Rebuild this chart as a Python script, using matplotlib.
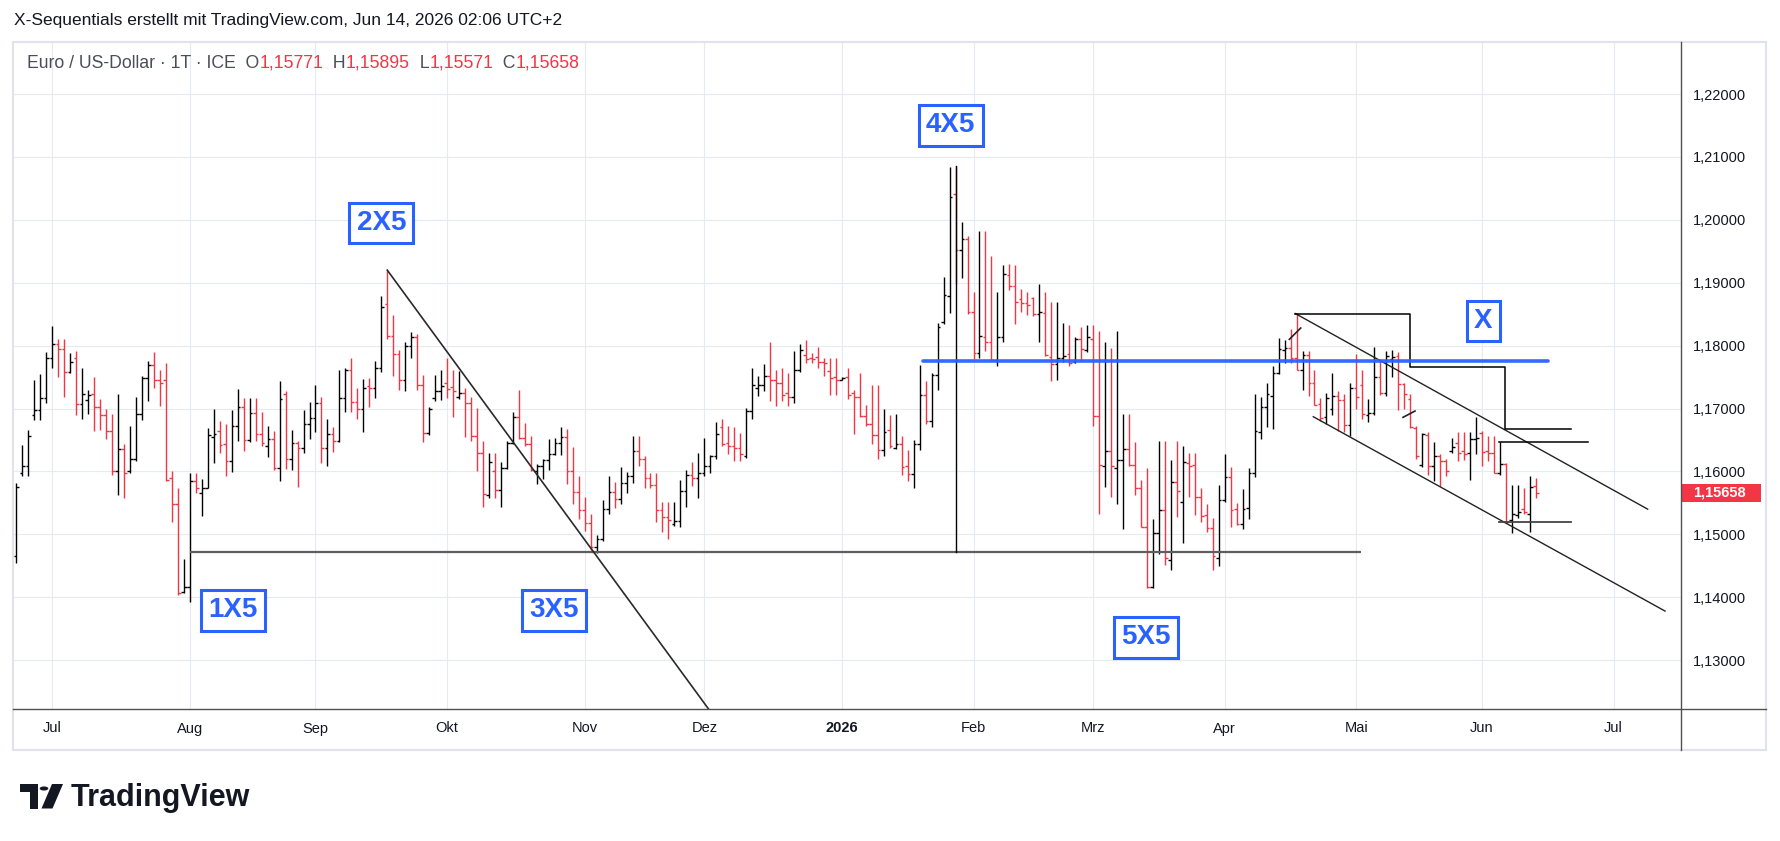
import numpy as np
import pandas as pd
import matplotlib
matplotlib.use("Agg")
import matplotlib.pyplot as plt
from matplotlib.collections import LineCollection
from matplotlib.patches import Rectangle, Polygon, Circle
from matplotlib.lines import Line2D

plt.rcParams['font.family'] = ['Liberation Sans', 'DejaVu Sans']

# ---------------- data (daily EUR/USD bars, first bar 2025-06-23) ----------------
first_date = "2025-06-23"

opens = [
    1.1465, 1.1598, 1.1609, 1.1690, 1.1698, 1.1717, 1.1780, 1.1803, 1.1794, 1.1758,
    1.1781, 1.1707, 1.1714, 1.1723, 1.1703, 1.1690, 1.1664, 1.1600, 1.1635, 1.1600,
    1.1620, 1.1692, 1.1749, 1.1769, 1.1746, 1.1745, 1.1589, 1.1548, 1.1408, 1.1416,
    1.1584, 1.1565, 1.1573, 1.1655, 1.1664, 1.1643, 1.1616, 1.1673, 1.1703, 1.1650,
    1.1693, 1.1660, 1.1640, 1.1651, 1.1606, 1.1723, 1.1619, 1.1645, 1.1637, 1.1676,
    1.1685, 1.1708, 1.1638, 1.1659, 1.1648, 1.1716, 1.1762, 1.1710, 1.1700, 1.1736,
    1.1732, 1.1765, 1.1866, 1.1816, 1.1787, 1.1746, 1.1800, 1.1814, 1.1738, 1.1661,
    1.1716, 1.1728, 1.1740, 1.1734, 1.1718, 1.1725, 1.1708, 1.1656, 1.1629, 1.1562,
    1.1600, 1.1570, 1.1606, 1.1645, 1.1687, 1.1653, 1.1644, 1.1600, 1.1608, 1.1618,
    1.1628, 1.1645, 1.1654, 1.1601, 1.1568, 1.1538, 1.1518, 1.1480, 1.1492, 1.1541,
    1.1567, 1.1556, 1.1582, 1.1592, 1.1633, 1.1619, 1.1589, 1.1578, 1.1538, 1.1527,
    1.1517, 1.1521, 1.1569, 1.1595, 1.1590, 1.1598, 1.1609, 1.1624, 1.1670, 1.1645,
    1.1640, 1.1637, 1.1625, 1.1696, 1.1733, 1.1738, 1.1751, 1.1745, 1.1741, 1.1724,
    1.1718, 1.1761, 1.1785, 1.1781, 1.1782, 1.1774, 1.1760, 1.1750, 1.1746, 1.1750,
    1.1724, 1.1719, 1.1688, 1.1675, 1.1658, 1.1634, 1.1666, 1.1638, 1.1643, 1.1608,
    1.1596, 1.1644, 1.1721, 1.1680, 1.1754, 1.1838, 1.1879, 1.2041, 1.1952, 1.1970,
    1.1853, 1.1789, 1.1813, 1.1805, 1.1777, 1.1813, 1.1913, 1.1894, 1.1874, 1.1868,
    1.1875, 1.1850, 1.1852, 1.1782, 1.1770, 1.1781, 1.1786, 1.1774, 1.1810, 1.1793,
    1.1810, 1.1688, 1.1608, 1.1632, 1.1606, 1.1618, 1.1635, 1.1610, 1.1573, 1.1511,
    1.1417, 1.1502, 1.1538, 1.1459, 1.1583, 1.1552, 1.1614, 1.1610, 1.1559, 1.1531,
    1.1510, 1.1462, 1.1555, 1.1591, 1.1541, 1.1517, 1.1542, 1.1598, 1.1663, 1.1702,
    1.1720, 1.1757, 1.1793, 1.1797, 1.1780, 1.1762, 1.1785, 1.1740, 1.1707, 1.1687,
    1.1699, 1.1720, 1.1714, 1.1674, 1.1733, 1.1737, 1.1689, 1.1693, 1.1750, 1.1724,
    1.1779, 1.1783, 1.1739, 1.1715, 1.1669, 1.1610, 1.1658, 1.1608, 1.1624, 1.1616,
    1.1633, 1.1645, 1.1632, 1.1629, 1.1651, 1.1661, 1.1633, 1.1629, 1.1598, 1.1612,
    1.1522, 1.1530, 1.1540, 1.1533, 1.15771,
]

highs = [
    1.1582, 1.1642, 1.1666, 1.1745, 1.1755, 1.1790, 1.1831, 1.1810, 1.1810, 1.1789,
    1.1791, 1.1765, 1.1729, 1.1750, 1.1715, 1.1699, 1.1692, 1.1723, 1.1643, 1.1673,
    1.1718, 1.1751, 1.1776, 1.1790, 1.1761, 1.1772, 1.1600, 1.1573, 1.1460, 1.1598,
    1.1598, 1.1588, 1.1669, 1.1699, 1.1680, 1.1676, 1.1698, 1.1731, 1.1717, 1.1717,
    1.1717, 1.1694, 1.1673, 1.1664, 1.1744, 1.1728, 1.1666, 1.1648, 1.1698, 1.1710,
    1.1737, 1.1719, 1.1683, 1.1671, 1.1761, 1.1765, 1.1781, 1.1732, 1.1747, 1.1749,
    1.1776, 1.1879, 1.1920, 1.1849, 1.1793, 1.1805, 1.1821, 1.1819, 1.1754, 1.1702,
    1.1754, 1.1762, 1.1780, 1.1761, 1.1760, 1.1732, 1.1718, 1.1701, 1.1648, 1.1630,
    1.1630, 1.1615, 1.1648, 1.1694, 1.1729, 1.1677, 1.1657, 1.1612, 1.1620, 1.1652,
    1.1653, 1.1670, 1.1667, 1.1639, 1.1592, 1.1560, 1.1533, 1.1499, 1.1554, 1.1592,
    1.1583, 1.1607, 1.1599, 1.1657, 1.1657, 1.1625, 1.1597, 1.1598, 1.1552, 1.1551,
    1.1552, 1.1586, 1.1602, 1.1615, 1.1629, 1.1653, 1.1626, 1.1678, 1.1683, 1.1673,
    1.1671, 1.1661, 1.1701, 1.1764, 1.1751, 1.1771, 1.1806, 1.1761, 1.1764, 1.1756,
    1.1791, 1.1802, 1.1809, 1.1789, 1.1798, 1.1781, 1.1780, 1.1780, 1.1750, 1.1765,
    1.1729, 1.1756, 1.1705, 1.1737, 1.1738, 1.1699, 1.1690, 1.1692, 1.1657, 1.1634,
    1.1650, 1.1769, 1.1744, 1.1756, 1.1836, 1.1909, 1.2084, 1.2086, 1.1997, 1.1975,
    1.1886, 1.1982, 1.1982, 1.1943, 1.1886, 1.1928, 1.1929, 1.1928, 1.1890, 1.1886,
    1.1877, 1.1898, 1.1885, 1.1870, 1.1870, 1.1836, 1.1832, 1.1814, 1.1830, 1.1832,
    1.1832, 1.1823, 1.1806, 1.1797, 1.1823, 1.1691, 1.1691, 1.1646, 1.1586, 1.1606,
    1.1525, 1.1648, 1.1648, 1.1618, 1.1648, 1.1641, 1.1630, 1.1630, 1.1573, 1.1548,
    1.1526, 1.1579, 1.1628, 1.1607, 1.1550, 1.1572, 1.1605, 1.1723, 1.1718, 1.1740,
    1.1768, 1.1812, 1.1809, 1.1826, 1.1851, 1.1792, 1.1791, 1.1762, 1.1716, 1.1725,
    1.1756, 1.1728, 1.1723, 1.1741, 1.1787, 1.1761, 1.1715, 1.1798, 1.1778, 1.1791,
    1.1793, 1.1790, 1.1741, 1.1723, 1.1672, 1.1661, 1.1663, 1.1646, 1.1628, 1.1620,
    1.1653, 1.1662, 1.1662, 1.1662, 1.1687, 1.1665, 1.1657, 1.1657, 1.1646, 1.1614,
    1.1579, 1.1579, 1.1573, 1.1592, 1.15895,
]

lows = [
    1.1455, 1.1592, 1.1592, 1.1682, 1.1682, 1.1709, 1.1764, 1.1750, 1.1719, 1.1757,
    1.1689, 1.1684, 1.1692, 1.1665, 1.1666, 1.1652, 1.1595, 1.1563, 1.1558, 1.1598,
    1.1616, 1.1681, 1.1712, 1.1733, 1.1704, 1.1585, 1.1520, 1.1404, 1.1407, 1.1393,
    1.1566, 1.1529, 1.1573, 1.1613, 1.1630, 1.1592, 1.1599, 1.1648, 1.1633, 1.1647,
    1.1649, 1.1641, 1.1623, 1.1603, 1.1584, 1.1604, 1.1603, 1.1576, 1.1630, 1.1652,
    1.1663, 1.1614, 1.1609, 1.1631, 1.1646, 1.1695, 1.1695, 1.1684, 1.1663, 1.1703,
    1.1717, 1.1758, 1.1810, 1.1752, 1.1729, 1.1728, 1.1781, 1.1729, 1.1647, 1.1658,
    1.1712, 1.1714, 1.1717, 1.1686, 1.1715, 1.1654, 1.1649, 1.1600, 1.1544, 1.1558,
    1.1558, 1.1544, 1.1604, 1.1643, 1.1652, 1.1640, 1.1600, 1.1580, 1.1588, 1.1602,
    1.1626, 1.1626, 1.1580, 1.1548, 1.1524, 1.1506, 1.1475, 1.1470, 1.1489, 1.1532,
    1.1542, 1.1549, 1.1565, 1.1581, 1.1608, 1.1573, 1.1573, 1.1519, 1.1503, 1.1492,
    1.1513, 1.1512, 1.1544, 1.1577, 1.1557, 1.1593, 1.1597, 1.1620, 1.1640, 1.1628,
    1.1617, 1.1616, 1.1622, 1.1684, 1.1720, 1.1728, 1.1712, 1.1704, 1.1712, 1.1704,
    1.1708, 1.1758, 1.1773, 1.1773, 1.1765, 1.1751, 1.1721, 1.1721, 1.1745, 1.1715,
    1.1660, 1.1687, 1.1673, 1.1644, 1.1620, 1.1624, 1.1637, 1.1636, 1.1595, 1.1585,
    1.1574, 1.1634, 1.1676, 1.1671, 1.1730, 1.1835, 1.1852, 1.1898, 1.1907, 1.1851,
    1.1778, 1.1780, 1.1792, 1.1776, 1.1767, 1.1806, 1.1888, 1.1834, 1.1853, 1.1849,
    1.1847, 1.1806, 1.1783, 1.1744, 1.1745, 1.1774, 1.1768, 1.1772, 1.1776, 1.1790,
    1.1672, 1.1532, 1.1576, 1.1560, 1.1548, 1.1508, 1.1608, 1.1562, 1.1511, 1.1414,
    1.1414, 1.1468, 1.1451, 1.1444, 1.1527, 1.1486, 1.1559, 1.1531, 1.1520, 1.1503,
    1.1443, 1.1449, 1.1552, 1.1511, 1.1515, 1.1508, 1.1524, 1.1591, 1.1652, 1.1671,
    1.1667, 1.1755, 1.1773, 1.1773, 1.1761, 1.1729, 1.1720, 1.1705, 1.1680, 1.1675,
    1.1690, 1.1664, 1.1663, 1.1656, 1.1699, 1.1683, 1.1678, 1.1690, 1.1722, 1.1720,
    1.1750, 1.1698, 1.1699, 1.1669, 1.1620, 1.1607, 1.1594, 1.1584, 1.1577, 1.1592,
    1.1630, 1.1617, 1.1618, 1.1587, 1.1627, 1.1609, 1.1616, 1.1597, 1.1595, 1.1518,
    1.1502, 1.1526, 1.1533, 1.1504, 1.15571,
]

closes = [
    1.1576, 1.1609, 1.1657, 1.1698, 1.1717, 1.1780, 1.1803, 1.1794, 1.1758, 1.1774,
    1.1707, 1.1723, 1.1721, 1.1703, 1.1690, 1.1664, 1.1600, 1.1635, 1.1598, 1.1620,
    1.1692, 1.1749, 1.1769, 1.1746, 1.1740, 1.1587, 1.1548, 1.1406, 1.1416, 1.1584,
    1.1574, 1.1573, 1.1658, 1.1660, 1.1642, 1.1616, 1.1673, 1.1703, 1.1650, 1.1693,
    1.1660, 1.1645, 1.1651, 1.1606, 1.1715, 1.1619, 1.1645, 1.1637, 1.1676, 1.1685,
    1.1708, 1.1638, 1.1659, 1.1648, 1.1716, 1.1761, 1.1710, 1.1700, 1.1732, 1.1732,
    1.1765, 1.1862, 1.1816, 1.1787, 1.1746, 1.1800, 1.1814, 1.1738, 1.1661, 1.1700,
    1.1728, 1.1736, 1.1731, 1.1728, 1.1725, 1.1708, 1.1656, 1.1629, 1.1564, 1.1615,
    1.1570, 1.1606, 1.1645, 1.1687, 1.1653, 1.1644, 1.1602, 1.1608, 1.1618, 1.1628,
    1.1645, 1.1654, 1.1601, 1.1568, 1.1538, 1.1518, 1.1480, 1.1492, 1.1541, 1.1567,
    1.1556, 1.1582, 1.1592, 1.1633, 1.1619, 1.1589, 1.1578, 1.1538, 1.1527, 1.1523,
    1.1521, 1.1569, 1.1595, 1.1590, 1.1598, 1.1609, 1.1624, 1.1660, 1.1643, 1.1640,
    1.1637, 1.1627, 1.1696, 1.1737, 1.1738, 1.1752, 1.1745, 1.1741, 1.1721, 1.1718,
    1.1761, 1.1793, 1.1779, 1.1778, 1.1774, 1.1772, 1.1748, 1.1745, 1.1748, 1.1721,
    1.1719, 1.1688, 1.1675, 1.1658, 1.1634, 1.1662, 1.1641, 1.1643, 1.1607, 1.1596,
    1.1644, 1.1722, 1.1680, 1.1754, 1.1829, 1.1880, 1.2036, 1.1952, 1.1970, 1.1853,
    1.1789, 1.1816, 1.1805, 1.1777, 1.1813, 1.1914, 1.1894, 1.1870, 1.1868, 1.1865,
    1.1850, 1.1854, 1.1785, 1.1770, 1.1781, 1.1783, 1.1772, 1.1811, 1.1795, 1.1813,
    1.1688, 1.1610, 1.1632, 1.1608, 1.1618, 1.1635, 1.1611, 1.1574, 1.1512, 1.1417,
    1.1502, 1.1539, 1.1463, 1.1583, 1.1569, 1.1615, 1.1609, 1.1559, 1.1529, 1.1510,
    1.1465, 1.1555, 1.1591, 1.1539, 1.1517, 1.1541, 1.1598, 1.1665, 1.1702, 1.1723,
    1.1757, 1.1795, 1.1797, 1.1780, 1.1762, 1.1785, 1.1740, 1.1706, 1.1685, 1.1716,
    1.1720, 1.1714, 1.1674, 1.1733, 1.1718, 1.1691, 1.1693, 1.1750, 1.1724, 1.1783,
    1.1782, 1.1739, 1.1723, 1.1671, 1.1625, 1.1659, 1.1608, 1.1624, 1.1616, 1.1601,
    1.1639, 1.1630, 1.1628, 1.1651, 1.1653, 1.1631, 1.1629, 1.1598, 1.1612, 1.1519,
    1.1533, 1.1536, 1.1535, 1.1576, 1.15658,
]

month_labels = ["Jul", "Aug", "Sep", "Okt", "Nov", "Dez", "2026",
                "Feb", "Mrz", "Apr", "Mai", "Jun", "Jul"]
month_starts = ["2025-07-01", "2025-08-01", "2025-09-01", "2025-10-01", "2025-11-03",
                "2025-12-01", "2026-01-01", "2026-02-02", "2026-03-02", "2026-04-01",
                "2026-05-01", "2026-06-01", "2026-07-01"]
price_ticks = [1.13, 1.14, 1.15, 1.16, 1.17, 1.18, 1.19, 1.20, 1.21, 1.22]

# drawing objects (bar index, price)
support_level = 1.1472
support_span = [29, 224.8]
resistance_level = 1.1776
resistance_span = [151.6, 256.0]
trend_2x5_x = [62, 116.5]
trend_2x5_y = [1.1920, 1.1212]
channel_upper_x = [213.8, 272.7]
channel_upper_y = [1.1851, 1.1540]
channel_lower_x = [216.8, 275.6]
channel_lower_y = [1.1687, 1.1378]
spike_x = 157
spike_y = [1.2086, 1.1472]
step_x = [213.8, 232.9, 232.9, 248.9, 248.9, 259.8]
step_y = [1.1850, 1.1850, 1.1766, 1.1766, 1.1667, 1.1667]
level_a_x = [247.8, 262.8]
level_a_y = 1.1646
level_b_x = [247.8, 259.8]
level_b_y = 1.1519
small_marks = [[(212.8, 1.1810), (214.7, 1.1828)], [(231.8, 1.1686), (233.8, 1.1696)]]
label_texts = ["1X5", "2X5", "3X5", "4X5", "5X5", "X"]
label_x = [36.2, 61.0, 89.9, 156.2, 188.8, 245.2]
label_y = [1.1379, 1.1995, 1.1379, 1.2150, 1.1336, 1.1839]

title = "X-Sequentials erstellt mit TradingView.com, Jun 14, 2026 02:06 UTC+2"
symbol_text = "Euro / US-Dollar · 1T · ICE"

# ---------------- figure ----------------
W, H = 1781, 841
fig = plt.figure(figsize=(W / 100, H / 100), dpi=100)
fig.patch.set_facecolor('white')


def fx(px):
    return px / W


def fy(py):
    return 1 - py / H


L_, R_, T_, B_ = 14, 1681, 42, 709
ax = fig.add_axes([fx(L_), fy(B_), fx(R_) - fx(L_), fy(T_) - fy(B_)])
ax.set_facecolor('white')
ax.set_xlim(-0.40, 278.27)
ax.set_ylim(1.12223, 1.22827)
for s in ax.spines.values():
    s.set_visible(False)

n = len(closes)
dates = pd.bdate_range(first_date, periods=n + 40)
tick_pos = dates.get_indexer(pd.to_datetime(month_starts))

ax.set_xticks(tick_pos)
ax.set_xticklabels(month_labels)
for lbl in ax.get_xticklabels():
    if lbl.get_text() == "2026":
        lbl.set_fontweight('bold')
ax.set_yticks(price_ticks)
ax.set_yticklabels([f"{v:.5f}".replace('.', ',') for v in price_ticks])
ax.yaxis.tick_right()
ax.tick_params(axis='y', length=0, pad=8.5, labelsize=10.5, labelcolor='#131722')
ax.tick_params(axis='x', length=0, pad=9, labelsize=10.5, labelcolor='#131722')
ax.grid(True, color='#e4ebf2', lw=0.8)
ax.set_axisbelow(True)

# OHLC bars
tk = 0.45
up_segs, dn_segs = [], []
for i in range(n):
    o, h, l, c = opens[i], highs[i], lows[i], closes[i]
    segs = [[(i, l), (i, h)], [(i - tk, o), (i, o)], [(i, c), (i + tk, c)]]
    (dn_segs if c < o else up_segs).extend(segs)
ax.add_collection(LineCollection(up_segs, colors='#000000', linewidths=1.0,
                                 capstyle='butt', zorder=3))
ax.add_collection(LineCollection(dn_segs, colors='#f23645', linewidths=1.0,
                                 capstyle='butt', zorder=3))

# drawings
ax.plot(support_span, [support_level] * 2, color='#5e5e5e', lw=1.6, zorder=4,
        solid_capstyle='butt')
ax.plot(trend_2x5_x, trend_2x5_y, color='#2a2a2a', lw=1.2, zorder=4)
ax.plot([spike_x, spike_x], spike_y, color='#000000', lw=1.0, zorder=4)
ax.plot(resistance_span, [resistance_level] * 2, color='#2962ff', lw=2.6, zorder=5,
        solid_capstyle='round', alpha=0.95)
ax.plot(channel_upper_x, channel_upper_y, color='#222222', lw=1.0, zorder=4)
ax.plot(channel_lower_x, channel_lower_y, color='#222222', lw=1.0, zorder=4)
ax.plot(step_x, step_y, color='#000000', lw=1.1, zorder=4)
ax.plot(level_a_x, [level_a_y] * 2, color='#000000', lw=1.1, zorder=4)
ax.plot(level_b_x, [level_b_y] * 2, color='#444444', lw=1.3, zorder=4)
for seg in small_marks:
    ax.plot([seg[0][0], seg[1][0]], [seg[0][1], seg[1][1]], color='#222222', lw=1.2, zorder=4)

for s, xx, yy in zip(label_texts, label_x, label_y):
    ax.text(xx, yy, s, ha='center', va='center', fontsize=20, color='#2962ff',
            fontweight='bold', zorder=6,
            bbox=dict(boxstyle='square,pad=0.26', fc='white', ec='#2962ff', lw=2.2))

# header texts
fig.text(fx(14), fy(20.5), title, fontsize=12.5, color='#131722', va='center', ha='left')


def fmt(v):
    return f"{v:.5f}".replace('.', ',')


parts = [(symbol_text + "  O", '#4a4e59'), (fmt(opens[-1]), '#f23645'),
         ("  H", '#4a4e59'), (fmt(highs[-1]), '#f23645'),
         ("  L", '#4a4e59'), (fmt(lows[-1]), '#f23645'),
         ("  C", '#4a4e59'), (fmt(closes[-1]), '#f23645')]
prev = None
for s, col in parts:
    if prev is None:
        prev = fig.text(fx(27), fy(63), s, fontsize=12.7, color=col, va='center', ha='left')
    else:
        prev = ax.annotate(s, xy=(1, 0), xycoords=prev, xytext=(0, 0),
                           textcoords='offset points', fontsize=12.7, color=col,
                           va='bottom', ha='left', annotation_clip=False)

# frames / separators
fig.add_artist(Rectangle((fx(13), fy(750)), fx(1766) - fx(13), fy(42) - fy(750),
                         transform=fig.transFigure, fill=False, ec='#e0e3eb', lw=1.5))
fig.add_artist(Line2D([fx(R_), fx(R_)], [fy(42), fy(750)], transform=fig.transFigure,
                      color='#505050', lw=1.0))
fig.add_artist(Line2D([fx(13), fx(1766)], [fy(B_), fy(B_)], transform=fig.transFigure,
                      color='#505050', lw=1.0))

# current price tag
ypx = ax.transData.transform((0, closes[-1]))[1]
yfrac = ypx / fig.bbox.height
fig.add_artist(Rectangle((fx(1682), yfrac - 9 / H), fx(1761) - fx(1682), 18 / H,
                         transform=fig.transFigure, fc='#f23645', ec='none'))
fig.text(fx(1693), yfrac, fmt(closes[-1]), fontsize=10.5, color='white',
         fontweight='bold', va='center', ha='left')

# TradingView logo
def pts(lst):
    return [(fx(a), fy(b)) for a, b in lst]


fig.add_artist(Polygon(pts([(20.5, 784), (38.5, 784), (38.5, 808.5), (30, 808.5),
                            (30, 792), (20.5, 792)]), closed=True,
                       transform=fig.transFigure, fc='#131722', ec='none'))
fig.add_artist(Circle((fx(44), fy(788.5)), 4.3 / W, transform=fig.transFigure,
                      fc='#131722', ec='none'))
fig.add_artist(Polygon(pts([(52, 784), (63, 784), (52.5, 808.5), (41.5, 808.5)]),
                       closed=True, transform=fig.transFigure, fc='#131722', ec='none'))
fig.text(fx(71), fy(806), "TradingView", fontsize=22, fontweight='bold',
         color='#131722', va='baseline', ha='left')

fig.savefig("out.png", dpi=100, facecolor='white')
